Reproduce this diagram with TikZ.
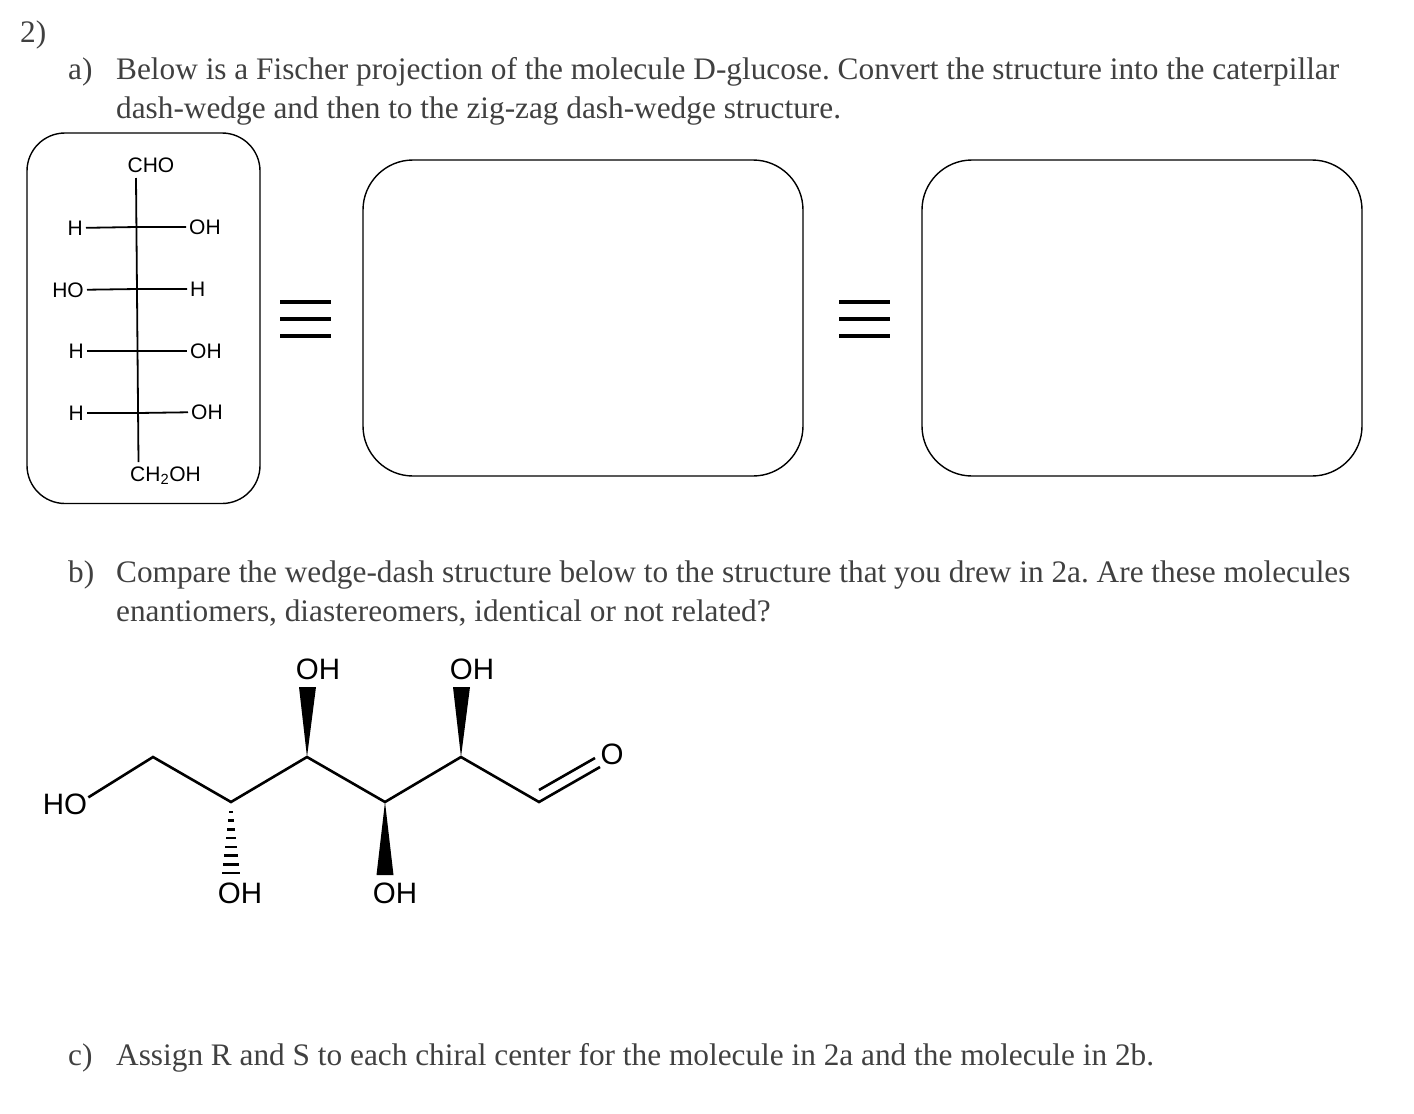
\documentclass[tikz,border=0pt]{standalone}
\usepackage{fontspec}
\setmainfont{Liberation Serif}
\setsansfont{Liberation Sans}
\definecolor{textgrey}{HTML}{404040}
\usetikzlibrary{calc}

\begin{document}
\frenchspacing
\begin{tikzpicture}[
        x=1pt, y=-1pt,
        question/.style={anchor=base west, inner sep=0pt, text=textgrey, font=\fontsize{31.3}{39}\selectfont},
        panel/.style={draw=black, line width=1.4pt, rounded corners=#1},
        atomsmall/.style={inner sep=3pt, font=\sffamily\fontsize{21}{24}\selectfont},
        atombig/.style={inner sep=1pt, font=\sffamily\fontsize{29.5}{34}\selectfont},
        bond/.style={draw=black, line width=1.8pt},
        skeleton/.style={draw=black, line width=2.6pt, line join=miter},
        bar/.style={draw=black, line width=4pt}
    ]
        \useasboundingbox (0,0) rectangle (1414,1114);

        % Question text
        \node [question] (num) at (20,42) {2)};
        \node [question] (parta) at (68,79) {a)};
        \node [question] (texta1) at (116,79) {Below is a Fischer projection of the molecule D-glucose. Convert the structure into the caterpillar};
        \node [question] (texta2) at (116,118) {dash-wedge and then to the zig-zag dash-wedge structure.};
        \node [question] (partb) at (68,582) {b)};
        \node [question] (textb1) at (116,582) {Compare the wedge-dash structure below to the structure that you drew in 2a. Are these molecules};
        \node [question] (textb2) at (116,621) {enantiomers, diastereomers, identical or not related?};
        \node [question] (partc) at (68,1065) {c)};
        \node [question] (textc) at (116,1065) {Assign R and S to each chiral center for the molecule in 2a and the molecule in 2b.};

        % Panels
        \draw [panel=38pt] (27,133) rectangle (260,503.5);
        \draw [panel=50pt] (363,160) rectangle (803,476);
        \draw [panel=50pt] (922,160) rectangle (1362,476);

        % Equivalence bars
        \foreach \barx in {280,839} {
            \foreach \bary in {302,319,336} {
                \draw [bar] (\barx,\bary) -- ++(51,0);
            }
        }

        % Fischer projection
        \node [atomsmall] (cho) at (151,165) {CHO};
        \node [atomsmall] (choh) at (165.5,476) {CH\textsubscript{2}OH};
        \coordinate (top) at (136,178);
        \coordinate (bottom) at (138.5,462);
        \coordinate (c1) at (136.5,227);
        \coordinate (c2) at (137,289);
        \coordinate (c3) at (138,351);
        \coordinate (c4) at (138,413);
        \node [atomsmall, anchor=east] (h1) at (86,228) {H};
        \node [atomsmall, anchor=west] (oh1) at (186,227) {OH};
        \node [atomsmall, anchor=east] (ho2) at (87,290) {HO};
        \node [atomsmall, anchor=west] (h2) at (187,289) {H};
        \node [atomsmall, anchor=east] (h3) at (87,351) {H};
        \node [atomsmall, anchor=west] (oh3) at (187,351) {OH};
        \node [atomsmall, anchor=east] (h4) at (87,413) {H};
        \node [atomsmall, anchor=west] (oh4) at (188,412) {OH};

        \draw [bond] (top) -- (bottom);
        \draw [bond] (h1) -- (c1) -- (oh1);
        \draw [bond] (ho2) -- (c2) -- (h2);
        \draw [bond] (h3) -- (c3) -- (oh3);
        \draw [bond] (h4) -- (c4) -- (oh4);

        % Wedge-dash structure
        \coordinate (a1) at (153,757);
        \coordinate (a2) at (231,802);
        \coordinate (a3) at (307,757);
        \coordinate (a4) at (385,802);
        \coordinate (a5) at (461,757);
        \coordinate (a6) at (539,802);
        \node [atombig] (hoend) at (65,804) {HO};
        \node [atombig] (oxy) at (612,754.5) {O};
        \node [atombig] (oh5) at (318,669) {OH};
        \node [atombig] (oh6) at (472,669) {OH};
        \node [atombig] (oh7) at (240,893) {OH};
        \node [atombig] (oh8) at (395,893) {OH};
        \coordinate (dbl2) at (600,767);
        \coordinate (dbl3) at (539,790);
        \coordinate (dbl4) at (595,758);

        \draw [skeleton] (hoend.north east) ++(0,5) -- (a1) -- (a2) -- (a3) -- (a4) -- (a5) -- (a6) -- (dbl2);
        \draw [skeleton] (dbl3) -- (dbl4);

        % Wedges
        \fill ($(a3)+(0,0)$) -- ($(a3)+(-8,-70)$) -- ($(a3)+(9,-70)$) -- cycle;
        \fill ($(a5)+(0,0)$) -- ($(a5)+(-8,-70)$) -- ($(a5)+(9,-70)$) -- cycle;
        \fill ($(a4)+(0,0)$) -- ($(a4)+(-8.5,73)$) -- ($(a4)+(8.5,73)$) -- cycle;

        % Hashed bond
        \foreach \k in {0,...,7} {
            \draw [black, line width=2.6pt] ($(a2)+(-1.6-1.05*\k,10+8.7*\k)$) -- ($(a2)+(1.6+1.05*\k,10+8.7*\k)$);
        }
    \end{tikzpicture}
\end{document}
